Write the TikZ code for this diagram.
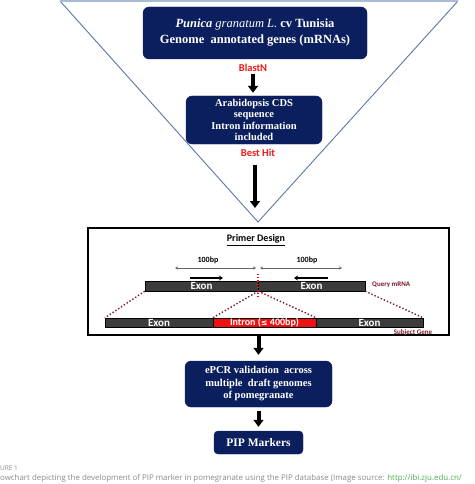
\documentclass[tikz,border=0pt]{standalone}
\usepackage{fontspec}
\setmainfont{Liberation Serif}
\newfontfamily\calfont{Carlito}
\newfontfamily\capfont{Open Sans}
\newfontfamily\dvfont{DejaVu Sans}
\usetikzlibrary{arrows.meta}
\definecolor{navy}{HTML}{0B1F5E}
\definecolor{tri}{HTML}{5A78A0}
\definecolor{toptri}{HTML}{A9BCD6}
\definecolor{barg}{HTML}{3C3C3C}
\definecolor{intron}{HTML}{EE1111}
\definecolor{dred}{HTML}{7B1A2B}
\definecolor{capgray}{HTML}{8A8A8A}
\definecolor{urlgreen}{HTML}{4CAF50}
\definecolor{lblred}{HTML}{F01818}
\tikzset{
  navybox/.style={fill=navy, draw=navy, rounded corners=6pt, text=white, align=center, inner sep=0pt},
  redlbl/.style={text=lblred, font=\calfont\bfseries\fontsize{10.5}{12}\selectfont, inner sep=1pt},
  blk/.style={line width=4pt, -{Triangle[width=10pt,length=7pt]}},
  bar/.style={fill=barg, draw=black, line width=0.4pt, inner sep=0pt, minimum height=10pt, text=white, font=\calfont\bfseries\fontsize{11}{10}\selectfont},
  intronbar/.style={bar, fill=intron},
  dimarrow/.style={draw=black!60, line width=0.6pt, {Stealth[length=3pt,width=3pt]}-{Stealth[length=3pt,width=3pt]}},
  primer/.style={line width=1.5pt, -{Stealth[length=4pt,width=5pt]}},
  reddots/.style={draw=dred, dotted, line width=1.4pt},
  smalllbl/.style={text=dred, font=\calfont\bfseries\fontsize{7}{8}\selectfont, inner sep=0pt},
  bplbl/.style={font=\calfont\bfseries\fontsize{8}{9}\selectfont, inner sep=0pt}
}
\begin{document}
\begin{tikzpicture}[x=1pt,y=-1pt]
\useasboundingbox (0,0) rectangle (474,484);
\clip (0,0) rectangle (474,484);
% funnel triangle
\draw[tri, line width=0.9pt] (60,1) -- (258,222) -- (458,1);
\draw[toptri, line width=2.5pt] (60,1) -- (458,1);
% top box
\node[navybox, minimum width=224pt, minimum height=52pt,
      font=\bfseries\fontsize{12.5}{16}\selectfont] (t1) at (255,33)
  {\textit{Punica} {\mdseries\itshape granatum L.} cv Tunisia\\Genome~ annotated genes (mRNAs)};
\node[redlbl] (b1) at (253,68) {BlastN};
% second box
\node[navybox, minimum width=136pt, minimum height=48pt,
      font=\bfseries\fontsize{10.5}{11.2}\selectfont] (box2) at (254,120)
  {Arabidopsis CDS\\sequence\\Intron information\\included};
\node[redlbl] (bh) at (258,153) {Best Hit};
\draw[blk, shorten <=1pt, shorten >=3pt] (b1.south) -- (b1.south |- box2.north);
\coordinate (a2e) at (255,208);
\draw[blk, shorten <=7pt] (bh.south -| a2e) -- (a2e);
% primer design frame
\node[draw=black, line width=1.5pt, minimum width=361pt, minimum height=107pt, inner sep=0pt] (frame) at (268.5,281.5) {};
\node[font=\calfont\bfseries\fontsize{10}{12}\selectfont, inner sep=0pt] (pd) at (256,240) {\underline{Primer Design}};
% 100bp
\coordinate (d1a) at (175,268); \coordinate (d1b) at (256,268);
\coordinate (d2a) at (260,268); \coordinate (d2b) at (342,268);
\draw[dimarrow] (d1a) -- (d1b);
\draw[dimarrow] (d2a) -- (d2b);
\node[bplbl] (bp1) at (208,260) {100bp};
\node[bplbl] (bp2) at (307,260) {100bp};
% query mRNA
\node[bar, minimum width=113pt] (qex1) at (201.5,286) {Exon};
\node[bar, minimum width=107pt] (qex2) at (311.5,286) {Exon};
\draw[intron, dotted, line width=1.2pt] (258,274) -- (258,297);
\coordinate (p1a) at (190,278); \coordinate (p1b) at (223,278);
\coordinate (p2a) at (328,278); \coordinate (p2b) at (294,278);
\draw[primer] (p1a) -- (p1b);
\draw[primer] (p2a) -- (p2b);
\node[smalllbl, anchor=west] (qlbl) at (372,285) {Query mRNA};
% subject gene
\node[bar, minimum width=108pt, minimum height=9pt] (sex1) at (159,322.5) {Exon};
\node[intronbar, minimum width=103pt, minimum height=9pt, font=\calfont\bfseries\fontsize{10}{10}\selectfont] (intr) at (264.5,322.5) {Intron ({\dvfont\fontsize{8}{10}\selectfont ≤} 400bp)};
\node[bar, minimum width=107pt, minimum height=9pt] (sex2) at (369.5,322.5) {Exon};
\node[smalllbl] (slbl) at (413,333) {Subject Gene};
\draw[reddots] (qex1.south west) -- (sex1.north west);
\draw[reddots] (qex1.south east) -- (intr.north west);
\draw[reddots] (qex1.south east) -- (intr.north east);
\draw[reddots] (qex2.south east) -- (sex2.north east);
% lower boxes
\node[navybox, minimum width=147pt, minimum height=46pt,
      font=\bfseries\fontsize{10.5}{12.5}\selectfont] (ep) at (258.5,384)
  {ePCR validation~ across\\multiple~ draft genomes\\of pomegranate};
\node[navybox, minimum width=89pt, minimum height=23pt, rounded corners=4pt,
      font=\bfseries\fontsize{11.5}{13}\selectfont] (pip) at (258.5,442.5) {PIP Markers};
\draw[blk, shorten <=0pt, shorten >=6pt] (ep.north |- frame.south) -- (ep.north);
\draw[blk, shorten <=4pt, shorten >=4pt] (ep.south) -- (pip.north);
% caption
\node[anchor=west, text=capgray, font=\capfont\fontsize{6.5}{8}\selectfont, inner sep=0pt] (cap1) at (0,468) {URE 1};
\node[anchor=west, text=capgray, font=\capfont\fontsize{7.9}{10}\selectfont, inner sep=0pt] (cap2) at (0,478)
  {owchart depicting the development of PIP marker in pomegranate using the PIP database (Image source: \textcolor{urlgreen}{http://ibi.zju.edu.cn/}};
\end{tikzpicture}
\end{document}
